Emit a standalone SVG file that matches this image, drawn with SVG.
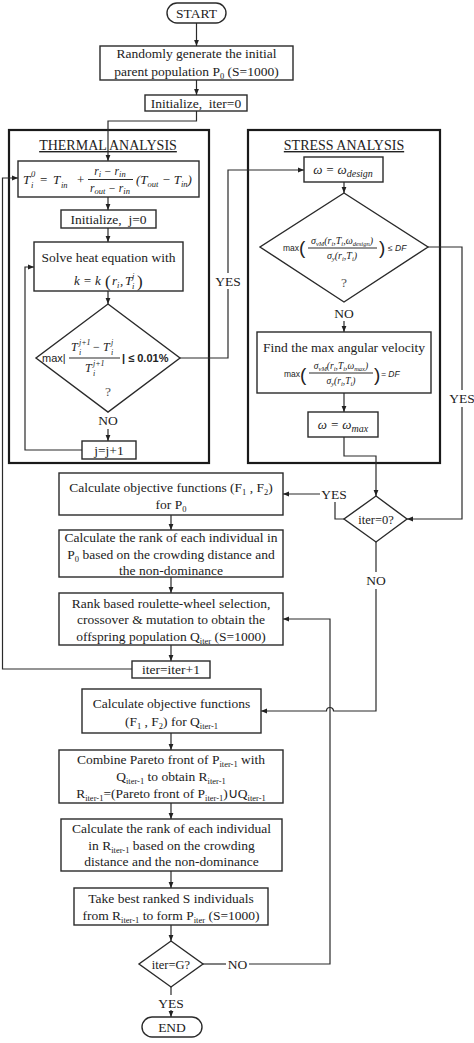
<svg xmlns="http://www.w3.org/2000/svg" width="474" height="1043" viewBox="0 0 474 1043">
<style>
.bx{fill:#fff;stroke:#2a2a2a;stroke-width:1.4}
.fr{fill:none;stroke:#1a1a1a;stroke-width:2.2}
.ln{fill:none;stroke:#2a2a2a;stroke-width:1.2}
.t{font-family:"Liberation Serif","Times New Roman",serif;font-size:13.5px;fill:#222;text-anchor:middle}
.ti{font-family:"Liberation Serif","Times New Roman",serif;font-style:italic;font-size:13px;fill:#222}
.ts{font-family:"Liberation Sans",Arial,sans-serif;fill:#222}
.sb{font-size:8.5px}
.hd{font-family:"Liberation Serif","Times New Roman",serif;font-size:14px;fill:#222;text-anchor:middle;text-decoration:underline}
</style>
<defs>
<marker id="ah" viewBox="0 0 8 8" refX="8" refY="4" markerWidth="6" markerHeight="6" orient="auto" markerUnits="userSpaceOnUse"><path d="M0,0.8 L8,4 L0,7.2 z" fill="#222"/></marker>
</defs>

<!-- frames -->
<g id="thermal-frame"><rect class="fr" x="9" y="130" width="200" height="333"/><text class="hd" x="108" y="150">THERMAL ANALYSIS</text></g>
<g id="stress-frame"><rect class="fr" x="248" y="130" width="192" height="333"/><text class="hd" x="344" y="150">STRESS ANALYSIS</text></g>

<g id="connectors">
<path class="ln" d="M196.5,23 V46" marker-end="url(#ah)"/>
<path class="ln" d="M196.5,80 V95" marker-end="url(#ah)"/>
<path class="ln" d="M196.5,111 V121 H108 V161" marker-end="url(#ah)"/>
<path class="ln" d="M108,197 V210" marker-end="url(#ah)"/>
<path class="ln" d="M108,228 V242" marker-end="url(#ah)"/>
<path class="ln" d="M108,291 V304" marker-end="url(#ah)"/>
<path class="ln" d="M108,429 V441" marker-end="url(#ah)"/>
<path class="ln" d="M82,450 H25 V267 H34" marker-end="url(#ah)"/>
<path class="ln" d="M180,358 H228 V289"/>
<path class="ln" d="M228,273 V170 H304" marker-end="url(#ah)"/>
<path class="ln" d="M344,182 V193" marker-end="url(#ah)"/>
<path class="ln" d="M344,321 V332" marker-end="url(#ah)"/>
<path class="ln" d="M344,393 V412" marker-end="url(#ah)"/>
<path class="ln" d="M344,437 V456 H376 V496" marker-end="url(#ah)"/>
<path class="ln" d="M428,247 H462 V390"/>
<path class="ln" d="M462,407 V519 H407" marker-end="url(#ah)"/>
<path class="ln" d="M344,519 H335 V502"/>
<path class="ln" d="M320,494 H283" marker-end="url(#ah)"/>
<path class="ln" d="M171,515 V530" marker-end="url(#ah)"/>
<path class="ln" d="M171,577 V593" marker-end="url(#ah)"/>
<path class="ln" d="M171,645 V661" marker-end="url(#ah)"/>
<path class="ln" d="M132,669 H2.5 V178 H18" marker-end="url(#ah)"/>
<path class="ln" d="M376,542 V572"/>
<path class="ln" d="M376,589 V711 H333.5 A3.5,3.5 0 0 0 326.5,711 H261" marker-end="url(#ah)"/>
<path class="ln" d="M171,733 V750" marker-end="url(#ah)"/>
<path class="ln" d="M171,803 V819" marker-end="url(#ah)"/>
<path class="ln" d="M171,871 V888" marker-end="url(#ah)"/>
<path class="ln" d="M171,925 V941" marker-end="url(#ah)"/>
<path class="ln" d="M203,964 H226"/>
<path class="ln" d="M249,964 H330 V619 H283" marker-end="url(#ah)"/>
<path class="ln" d="M171,987 V995"/>
<path class="ln" d="M171,1010 V1017" marker-end="url(#ah)"/>
</g>

<g id="start"><rect class="bx" x="167" y="3" width="59" height="20" rx="10"/><text class="t" x="196.5" y="18">START</text></g>

<g id="init-pop"><rect class="bx" x="100" y="46" width="193" height="34"/>
<text class="t" x="196.5" y="58">Randomly generate the initial</text>
<text class="t" x="196.5" y="75.5">parent population P<tspan class="sb" dy="3">0</tspan><tspan dy="-3"> (S=1000)</tspan></text></g>

<g id="init-iter"><rect class="bx" x="145" y="95" width="102" height="16"/><text class="t" x="196" y="108">Initialize,&#160; iter=0</text></g>

<g id="t-init"><rect class="bx" x="18" y="161" width="181" height="36"/>
<text class="ti" x="23" y="184">T</text><text class="ti sb" x="31" y="177">0</text><text class="ti sb" x="31" y="188">i</text>
<text class="ti" x="40" y="184" style="font-style:normal">=</text>
<text class="ti" x="53" y="184">T</text><text class="ti sb" x="61" y="188">in</text>
<text class="ti" x="77" y="184" style="font-style:normal">+</text>
<text class="ti" x="110" y="175" text-anchor="middle" style="font-size:11.5px">r<tspan class="sb" dy="2">i</tspan><tspan dy="-2"> − r</tspan><tspan class="sb" dy="2">in</tspan></text>
<line class="ln" x1="88" y1="179.5" x2="133" y2="179.5" stroke-width="0.9"/>
<text class="ti" x="110" y="192" text-anchor="middle" style="font-size:11.5px">r<tspan class="sb" dy="2">out</tspan><tspan dy="-2"> − r</tspan><tspan class="sb" dy="2">in</tspan></text>
<text class="ti" x="136" y="184">(T<tspan class="sb" dy="3">out</tspan><tspan dy="-3"> − T</tspan><tspan class="sb" dy="3">in</tspan><tspan dy="-3">)</tspan></text>
</g>

<g id="init-j"><rect class="bx" x="61" y="210" width="95" height="18"/><text class="t" x="108.5" y="224">Initialize,&#160; j=0</text></g>

<g id="solve"><rect class="bx" x="34" y="242" width="149" height="49"/>
<text class="t" x="108.5" y="262">Solve heat equation with</text>
<text class="ti" x="74" y="285">k = k</text>
<text class="ti" x="105" y="287" style="font-style:normal;font-size:17px">(</text>
<text class="ti" x="112" y="285">r</text><text class="ti sb" x="117" y="288">i</text>
<text class="ti" x="120" y="285">,</text>
<text class="ti" x="125" y="285">T</text><text class="ti sb" x="132" y="279">j</text><text class="ti sb" x="132" y="289">i</text>
<text class="ti" x="137" y="287" style="font-style:normal;font-size:17px">)</text>
</g>

<g id="conv-check"><polygon class="bx" points="108,304 180,358 108,412 36,358"/>
<text class="ts" x="42" y="362" font-size="11">max|</text>
<text class="ti" x="71" y="351" style="font-size:12px">T</text><text class="ti" x="79" y="345" style="font-size:8px">j+1</text><text class="ti" x="79" y="355" style="font-size:8px">i</text>
<text class="ti" x="93" y="351" style="font-size:12px;font-style:normal">−</text>
<text class="ti" x="103" y="351" style="font-size:12px">T</text><text class="ti" x="111" y="345" style="font-size:8px">j</text><text class="ti" x="111" y="355" style="font-size:8px">i</text>
<line class="ln" x1="69" y1="358" x2="120" y2="358" stroke-width="0.9"/>
<text class="ti" x="85" y="372" style="font-size:12px">T</text><text class="ti" x="93" y="366" style="font-size:8px">j+1</text><text class="ti" x="93" y="376" style="font-size:8px">i</text>
<text class="ts" x="122" y="362" font-size="11" font-weight="bold">| ≤ 0.01%</text>
<text class="t" x="108" y="396" style="fill:#555">?</text>
<text class="t" x="108" y="425">NO</text>
</g>

<g id="j-inc"><rect class="bx" x="82" y="441" width="54" height="18"/><text class="t" x="109" y="455">j=j+1</text></g>

<text class="t" x="228" y="286">YES</text>

<g id="omega-design"><rect class="bx" x="304" y="157" width="79" height="25"/>
<text class="ti" x="343" y="174" text-anchor="middle">ω = ω<tspan font-size="10" dy="3">design</tspan></text></g>

<g id="stress-check"><polygon class="bx" points="344,193 428,247 344,302 260,247"/>
<text class="ts" x="283" y="251" font-size="8.5">max</text>
<text class="ts" x="299" y="254" font-size="19" font-weight="100">(</text>
<text class="ti" x="342" y="244" text-anchor="middle" style="font-size:10px">σ<tspan font-size="6.5" dy="2">vM</tspan><tspan dy="-2">(r</tspan><tspan font-size="6.5" dy="2">i</tspan><tspan dy="-2">,T</tspan><tspan font-size="6.5" dy="2">i</tspan><tspan dy="-2">,ω</tspan><tspan font-size="6.5" dy="2">design</tspan><tspan dy="-2">)</tspan></text>
<line class="ln" x1="308" y1="248" x2="377" y2="248" stroke-width="0.8"/>
<text class="ti" x="342" y="259" text-anchor="middle" style="font-size:10px">σ<tspan font-size="6.5" dy="2">y</tspan><tspan dy="-2">(r</tspan><tspan font-size="6.5" dy="2">i</tspan><tspan dy="-2">,T</tspan><tspan font-size="6.5" dy="2">i</tspan><tspan dy="-2">)</tspan></text>
<text class="ts" x="379" y="254" font-size="19" font-weight="100">)</text>
<text class="ts" x="388" y="251" font-size="8.5" font-style="italic">≤ DF</text>
<text class="t" x="344" y="287" style="fill:#555">?</text>
<text class="t" x="344" y="318">NO</text>
</g>

<g id="find-max"><rect class="bx" x="257" y="332" width="174" height="61"/>
<text class="t" x="344" y="352">Find the max angular velocity</text>
<text class="ts" x="284" y="377" font-size="8.5">max</text>
<text class="ts" x="300" y="381" font-size="19" font-weight="100">(</text>
<text class="ti" x="341" y="369" text-anchor="middle" style="font-size:9.5px">σ<tspan font-size="6.5" dy="2">vM</tspan><tspan dy="-2">(r</tspan><tspan font-size="6.5" dy="2">i</tspan><tspan dy="-2">,T</tspan><tspan font-size="6.5" dy="2">i</tspan><tspan dy="-2">,ω</tspan><tspan font-size="6.5" dy="2">max</tspan><tspan dy="-2">)</tspan></text>
<line class="ln" x1="309" y1="373" x2="373" y2="373" stroke-width="0.8"/>
<text class="ti" x="341" y="384" text-anchor="middle" style="font-size:9.5px">σ<tspan font-size="6.5" dy="2">y</tspan><tspan dy="-2">(r</tspan><tspan font-size="6.5" dy="2">i</tspan><tspan dy="-2">,T</tspan><tspan font-size="6.5" dy="2">i</tspan><tspan dy="-2">)</tspan></text>
<text class="ts" x="374" y="381" font-size="19" font-weight="100">)</text>
<text class="ts" x="381" y="377" font-size="8.5" font-style="italic">= DF</text>
</g>

<g id="omega-max"><rect class="bx" x="308" y="412" width="70" height="25"/>
<text class="ti" x="343" y="429" text-anchor="middle">ω = ω<tspan font-size="10" dy="3">max</tspan></text></g>

<text class="t" x="462" y="403">YES</text>

<g id="iter0"><polygon class="bx" points="376,496 407,519 376,542 344,519"/><text class="t" x="376" y="523.5" style="font-size:12.5px">iter=0?</text></g>
<text class="t" x="334" y="499">YES</text>
<text class="t" x="376" y="585">NO</text>

<g id="calc-obj0"><rect class="bx" x="59" y="473" width="224" height="42"/>
<text class="t" x="171" y="492">Calculate objective functions (F<tspan class="sb" dy="3">1</tspan><tspan dy="-3"> , F</tspan><tspan class="sb" dy="3">2</tspan><tspan dy="-3">)</tspan></text>
<text class="t" x="171" y="508.5">for P<tspan class="sb" dy="3">0</tspan></text></g>

<g id="rank0"><rect class="bx" x="59" y="530" width="224" height="47"/>
<text class="t" x="171" y="541.5">Calculate the rank of each individual in</text>
<text class="t" x="171" y="558.5">P<tspan class="sb" dy="3">0</tspan><tspan dy="-3"> based on the crowding distance and</tspan></text>
<text class="t" x="171" y="575">the non-dominance</text></g>

<g id="roulette"><rect class="bx" x="59" y="593" width="224" height="52"/>
<text class="t" x="171" y="607.5">Rank based roulette-wheel selection,</text>
<text class="t" x="171" y="624">crossover &amp; mutation to obtain the</text>
<text class="t" x="171" y="640.5">offspring population Q<tspan class="sb" dy="3">iter</tspan><tspan dy="-3"> (S=1000)</tspan></text></g>

<g id="iter-inc"><rect class="bx" x="132" y="661" width="78" height="17"/><text class="t" x="171" y="674">iter=iter+1</text></g>

<g id="calc-obj"><rect class="bx" x="82" y="689" width="179" height="44"/>
<text class="t" x="171.5" y="707.5">Calculate objective functions</text>
<text class="t" x="171.5" y="725.5">(F<tspan class="sb" dy="3">1</tspan><tspan dy="-3"> , F</tspan><tspan class="sb" dy="3">2</tspan><tspan dy="-3">) for Q</tspan><tspan class="sb" dy="3">iter-1</tspan></text></g>

<g id="combine"><rect class="bx" x="59" y="750" width="224" height="53"/>
<text class="t" x="171" y="764">Combine Pareto front of P<tspan class="sb" dy="3">iter-1</tspan><tspan dy="-3"> with</tspan></text>
<text class="t" x="171" y="781">Q<tspan class="sb" dy="3">iter-1</tspan><tspan dy="-3"> to obtain R</tspan><tspan class="sb" dy="3">iter-1</tspan></text>
<text class="t" x="171" y="798">R<tspan class="sb" dy="3">iter-1</tspan><tspan dy="-3">=(Pareto front of P</tspan><tspan class="sb" dy="3">iter-1</tspan><tspan dy="-3">)∪Q</tspan><tspan class="sb" dy="3">iter-1</tspan></text></g>

<g id="rank"><rect class="bx" x="61" y="819" width="221" height="52"/>
<text class="t" x="171.5" y="832.5">Calculate the rank of each individual</text>
<text class="t" x="171.5" y="849.5">in R<tspan class="sb" dy="3">iter-1</tspan><tspan dy="-3"> based on the crowding</tspan></text>
<text class="t" x="171.5" y="866">distance and the non-dominance</text></g>

<g id="take-best"><rect class="bx" x="74" y="888" width="194" height="37"/>
<text class="t" x="171" y="902.5">Take best ranked S individuals</text>
<text class="t" x="171" y="919.5">from R<tspan class="sb" dy="3">iter-1</tspan><tspan dy="-3"> to form P</tspan><tspan class="sb" dy="3">iter</tspan><tspan dy="-3"> (S=1000)</tspan></text></g>

<g id="iterG"><polygon class="bx" points="171,941 203,964 171,987 139,964"/><text class="t" x="171" y="968.5" style="font-size:12.5px">iter=G?</text></g>
<text class="t" x="237.5" y="968.5">NO</text>
<text class="t" x="171" y="1007.5">YES</text>

<g id="end"><rect class="bx" x="142" y="1017" width="60" height="20" rx="10"/><text class="t" x="172" y="1032">END</text></g>
</svg>
